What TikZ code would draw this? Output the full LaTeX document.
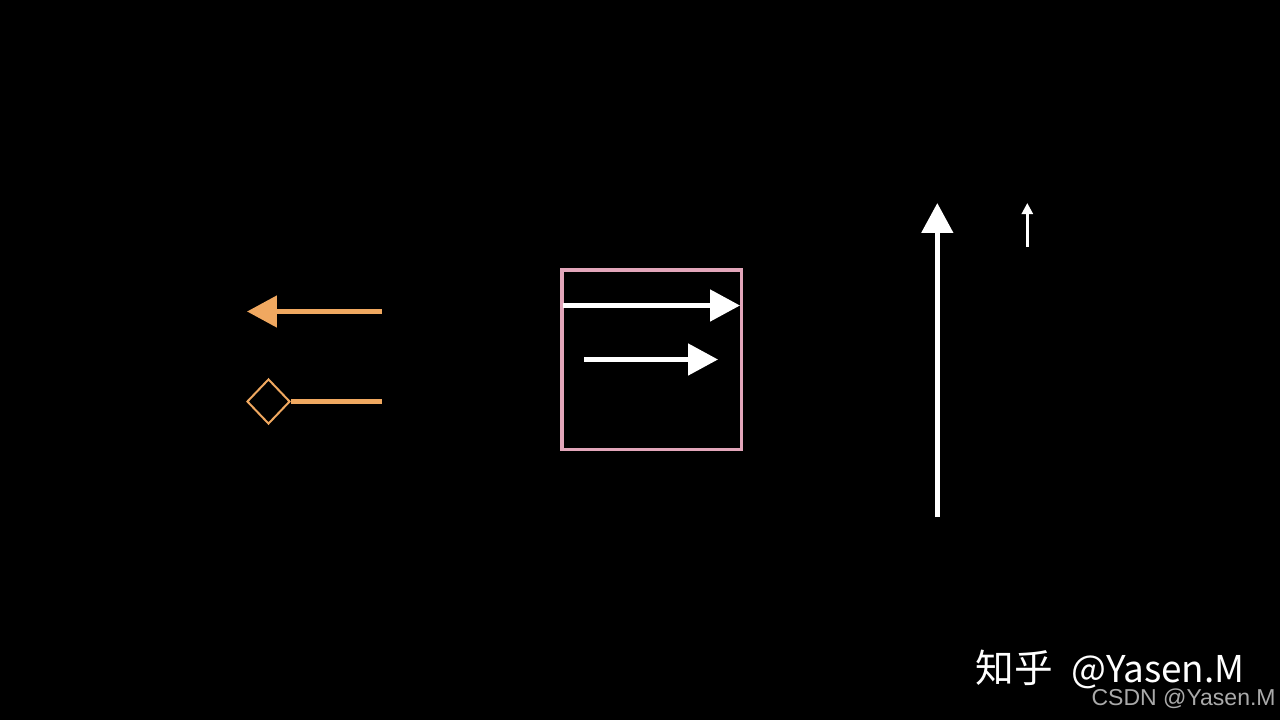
\documentclass[tikz,border=0pt]{standalone}
\usepackage{fontspec}
\setsansfont{Liberation Sans}
\newfontfamily\cjk{Noto Sans CJK SC}
\usepackage{tikz}
\usetikzlibrary{shapes.geometric, arrows.meta}
\definecolor{lineorange}{RGB}{240,168,96}
\definecolor{boxpink}{RGB}{226,166,186}
\definecolor{markgray}{RGB}{170,170,170}
\tikzstyle{bigarrow} = [line width=0.1cm, draw=white, -{Triangle[length=0.6cm, width=0.62cm]}]
\tikzstyle{orangearrow} = [bigarrow, draw=lineorange]
\tikzstyle{orangeline} = [line width=0.1cm, draw=lineorange]
\tikzstyle{smallarrow} = [line width=0.05cm, draw=white, -{Triangle[length=0.22cm, width=0.22cm]}]
\tikzstyle{frame} = [rectangle, draw=boxpink, line width=0.07cm, minimum width=3.59cm, minimum height=3.59cm, inner sep=0pt]
\tikzstyle{hollowdiamond} = [diamond, draw=lineorange, line width=0.04cm, minimum width=0.86cm, minimum height=0.9cm, inner sep=0pt]

\begin{document}
\begin{tikzpicture}[x=0.02cm, y=-0.02cm]

\path[use as bounding box, fill=black] (0,0) rectangle (1280,720);

% left
\coordinate (ostart) at (382,311.5);
\coordinate (otip) at (247,311.5);
\coordinate (dstart) at (382,401.5);
\node (dmd) [hollowdiamond] at (268.5,401.5) {};

\draw [orangearrow] (ostart) -- (otip);
\draw [orangeline] (dstart) -- (dmd.east);

% middle
\node (box) [frame] at (651.75,359.75) {};
\coordinate (a1start) at (563,305.5);
\coordinate (a1tip) at (740,305.5);
\coordinate (a2start) at (584,359.5);
\coordinate (a2tip) at (718,359.5);

\draw [bigarrow] (a1start) -- (a1tip);
\draw [bigarrow] (a2start) -- (a2tip);

% right
\coordinate (vstart) at (937.3,517);
\coordinate (vtip) at (937.3,203);
\coordinate (sstart) at (1027.3,247);
\coordinate (stip) at (1027.3,203);

\draw [bigarrow] (vstart) -- (vtip);
\draw [smallarrow] (sstart) -- (stip);

% watermark
\node (zhihu) [anchor=west, text=white, font=\cjk\fontsize{22}{26}\selectfont, inner sep=0pt] at (975,669.5) {知乎\hspace{0.38cm}{\fontsize{21}{26}\selectfont @Yasen.M}};
\node (csdn) [anchor=east, text=markgray, font=\sffamily\fontsize{13.1}{15}\selectfont, inner sep=0pt] at (1276,698.5) {CSDN @Yasen.M};

\end{tikzpicture}
\end{document}
